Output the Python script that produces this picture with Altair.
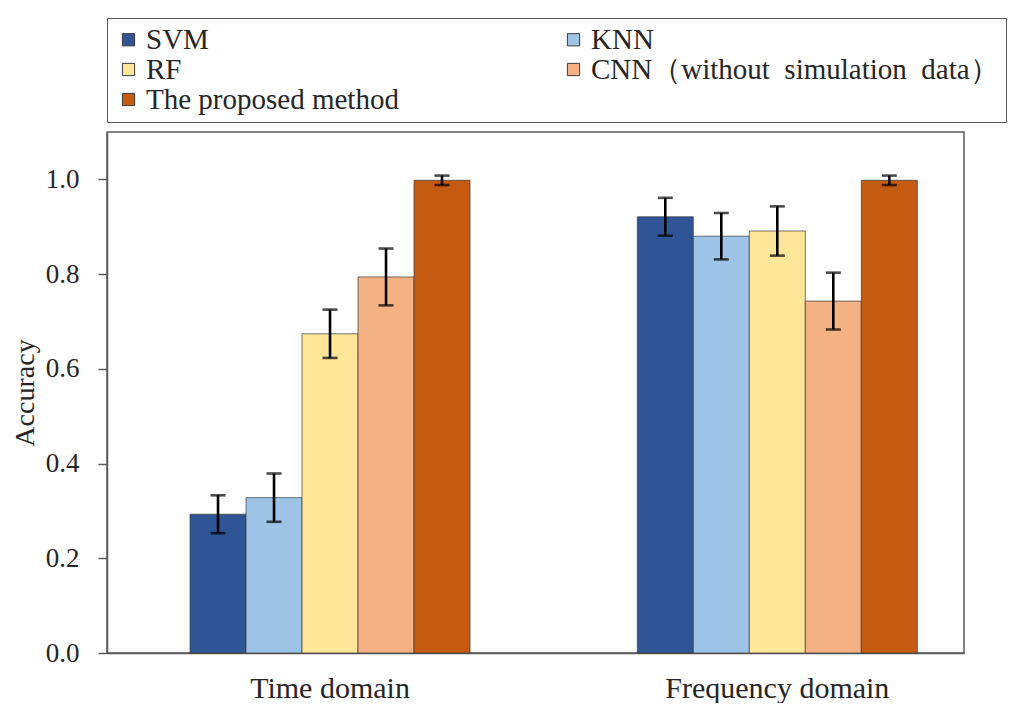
import altair as alt
import pandas as pd

domains = ["Time domain", "Frequency domain"]
methods = ["SVM", "KNN", "RF", "CNN（without\u00a0 simulation\u00a0 data）", "The proposed method"]
colors = ["#2F5597", "#9DC3E6", "#FFE699", "#F4B183", "#C55A11"]
time_acc = [0.293, 0.328, 0.674, 0.794, 0.998]
time_err = [0.040, 0.051, 0.051, 0.060, 0.010]
freq_acc = [0.921, 0.880, 0.891, 0.743, 0.998]
freq_err = [0.040, 0.049, 0.052, 0.060, 0.010]

# legend reads row by row in the reference; Vega fills columns first
legend_order = [0, 2, 4, 1, 3]
legend_domain = [methods[i] for i in legend_order]
legend_range = [colors[i] for i in legend_order]

rows = []
for d, accs, errs in [(domains[0], time_acc, time_err), (domains[1], freq_acc, freq_err)]:
    for m, a, e in zip(methods, accs, errs):
        rows.append({"domain": d, "method": m, "acc": a, "lo": a - e, "hi": a + e})
df = pd.DataFrame(rows)

FONT = "'Times New Roman', 'Liberation Serif', serif"
TXT = "#262626"

x_enc = alt.X("domain:N", sort=domains, title=None,
              scale=alt.Scale(paddingInner=0.374, paddingOuter=0.145, align=0.64),
              axis=alt.Axis(labelAngle=0, ticks=False, labelPadding=20, labelFontSize=30,
                            labelLimit=500,
                            labelFont=FONT, labelColor=TXT, domainColor="#595959", domainWidth=1.5))
xo_enc = alt.XOffset("method:N", sort=methods, scale=alt.Scale(paddingInner=0, paddingOuter=0))

base = alt.Chart(df)

bars = base.mark_bar(stroke="#3a3a3a", strokeWidth=1, strokeOpacity=0.7).encode(
    x=x_enc,
    xOffset=xo_enc,
    y=alt.Y("acc:Q", title="Accuracy",
            scale=alt.Scale(domain=[0, 1.1], nice=False),
            axis=alt.Axis(values=[0, 0.2, 0.4, 0.6, 0.8, 1.0], format=".1f", grid=False,
                          tickSize=9, tickColor="#595959", tickWidth=1.5,
                          domainColor="#595959", domainWidth=1.5,
                          labelFontSize=27, labelFont=FONT, labelColor=TXT, labelPadding=19,
                          titleFontSize=28, titleFont=FONT, titleColor=TXT, titleFontWeight="normal",
                          titlePadding=6)),
    color=alt.Color("method:N",
                    scale=alt.Scale(domain=legend_domain, range=legend_range),
                    legend=alt.Legend(title=None, orient="none", legendX=0, legendY=-114,
                                      columns=2, columnPadding=160, rowPadding=-1,
                                      symbolType="square", symbolSize=150,
                                      symbolStrokeColor="#3a3a3a", symbolStrokeWidth=1,
                                      labelFont=FONT, labelFontSize=29, labelColor=TXT,
                                      labelOffset=3, labelLimit=600,
                                      strokeColor="#595959", padding=7,
                                      fillColor="white")),
)

rules = base.mark_rule(color="black", strokeWidth=2.6).encode(
    x=alt.X("domain:N", sort=domains),
    xOffset=alt.XOffset("method:N", sort=methods),
    y=alt.Y("lo:Q"),
    y2="hi:Q",
)
caps_hi = base.mark_tick(color="black", thickness=2.6, size=15, orient="horizontal").encode(
    x=alt.X("domain:N", sort=domains),
    xOffset=alt.XOffset("method:N", sort=methods),
    y=alt.Y("hi:Q"),
)
caps_lo = base.mark_tick(color="black", thickness=2.6, size=15, orient="horizontal").encode(
    x=alt.X("domain:N", sort=domains),
    xOffset=alt.XOffset("method:N", sort=methods),
    y=alt.Y("lo:Q"),
)

chart = alt.layer(bars, rules, caps_hi, caps_lo).properties(
    width=857, height=521, padding={"left": 3, "top": 9, "right": 0, "bottom": 0}
).configure(background="white", font=FONT).configure_view(
    stroke="#595959", strokeWidth=1.5
).configure_axis(labelFont=FONT, titleFont=FONT).configure_legend(labelFont=FONT)

chart.save("out.html", embed_options={"renderer": "svg", "actions": False})
